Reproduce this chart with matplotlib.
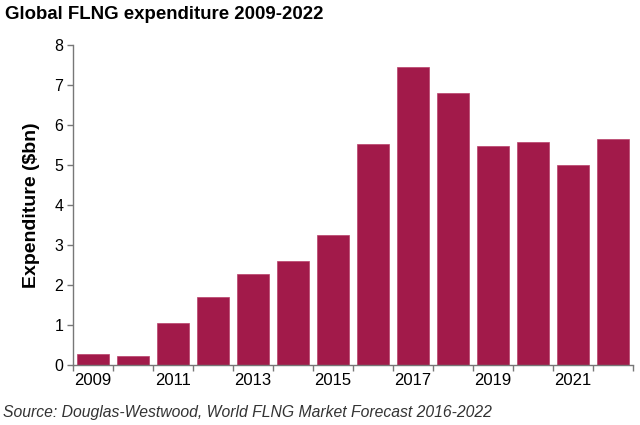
import matplotlib
matplotlib.use("Agg")
import matplotlib.pyplot as plt
import numpy as np

years = list(range(2009, 2023))
spend = [0.28, 0.22, 1.04, 1.71, 2.27, 2.61, 3.25, 5.52, 7.46, 6.79, 5.48, 5.57, 4.99, 5.65]
year_labels = [str(y) if y % 2 == 1 else "" for y in years]

plt.rcParams['font.family'] = ['Liberation Sans', 'DejaVu Sans']

fig = plt.figure(figsize=(6.4, 4.25), dpi=100)
ax = fig.add_axes([0.114, 0.141, 0.875, 0.753])

x = np.arange(len(years))
ax.bar(x, spend, width=0.8, color='#A21A4A', edgecolor='#B8406A', linewidth=0.5)

ax.set_xlim(-0.5, len(years) - 0.5)
ax.set_ylim(0, 8)
ax.set_yticks(range(0, 9))
ax.set_xticks(x)
ax.set_xticklabels(year_labels, fontsize=12)
ax.set_xticks(np.arange(-0.5, len(years)), minor=True)
ax.tick_params(axis='x', which='major', length=0, pad=6)
ax.tick_params(axis='x', which='minor', length=4, color='#777777', width=1)
ax.tick_params(axis='y', length=4, color='#777777', width=1, labelsize=11.5, pad=3)

for s in ['top', 'right']:
    ax.spines[s].set_visible(False)
for s in ['left', 'bottom']:
    ax.spines[s].set_color('#777777')
    ax.spines[s].set_linewidth(1)

ax.set_ylabel('Expenditure ($bn)', fontsize=14, fontweight='bold', labelpad=10)

fig.text(0.008, 0.965, 'Global FLNG expenditure 2009-2022', fontsize=13.4,
         fontweight='bold', va='center', ha='left')
fig.text(0.005, 0.03, 'Source: Douglas-Westwood, World FLNG Market Forecast 2016-2022',
         fontsize=11.3, style='italic', color='#333333', va='center', ha='left')

fig.savefig('out.png', dpi=100)
